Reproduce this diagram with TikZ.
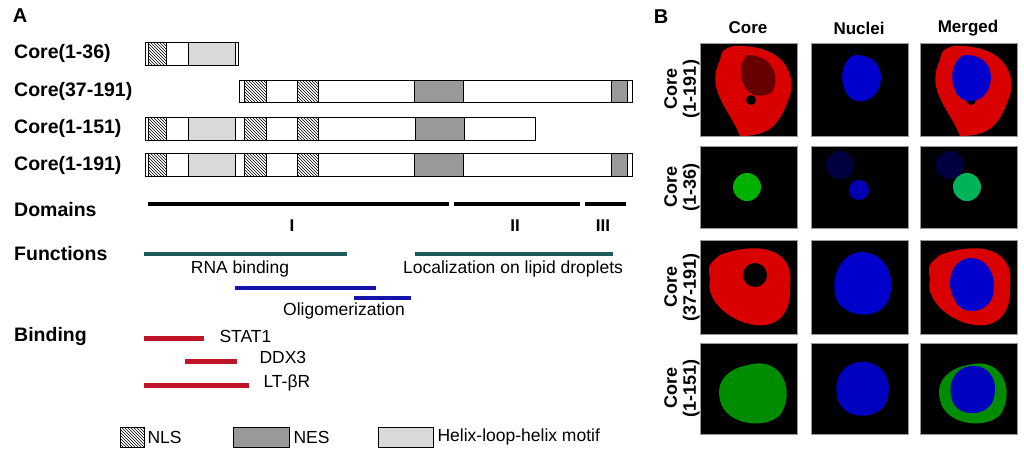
\documentclass[tikz,border=0pt]{standalone}
\usepackage{fontspec}
\setmainfont{Liberation Sans}
\usetikzlibrary{patterns}
\begin{document}
\begin{tikzpicture}[x=1pt,y=-1pt,
  lab/.style={font=\bfseries\fontsize{19.5}{22}\selectfont,anchor=west,inner sep=0pt},
  txt/.style={font=\fontsize{17.5}{20}\selectfont},
  bar/.style={draw=black,fill=white,line width=1pt},
  nls/.style={draw=black,pattern=north west lines,line width=0.8pt},
  nes/.style={draw=black,fill=black!40,line width=0.8pt},
  hlh/.style={draw=black,fill=black!15,line width=0.8pt},
  dom/.style={line width=4pt},
  fun/.style={line width=4pt,draw={rgb,255:red,30;green,90;blue,90}},
  olig/.style={line width=4pt,draw={rgb,255:red,20;green,20;blue,170}},
  bind/.style={line width=5pt,draw={rgb,255:red,190;green,20;blue,40}},
  img/.style={fill=black,draw=black!40,line width=0.4pt},
  hdr/.style={font=\bfseries\fontsize{17}{19}\selectfont},
  rhdr/.style={font=\bfseries\fontsize{18}{19}\selectfont,rotate=90,align=center}]
\useasboundingbox (0,0) rectangle (1024,459);
\node[font=\bfseries\fontsize{20}{22}\selectfont] (A) at (20,16) {A};
\node[font=\bfseries\fontsize{20}{22}\selectfont] (B) at (661,17) {B};
% constructs
\node[lab] (l1) at (14,53) {Core(1-36)};
\node[lab] (l2) at (14,91) {Core(37-191)};
\node[lab] (l3) at (14,128) {Core(1-151)};
\node[lab] (l4) at (14,165) {Core(1-191)};
% row 1
\draw[bar] (145,42) rectangle (238,65);
\draw[nls] (148,42) rectangle (166,65);
\draw[hlh] (188,42) rectangle (235,65);
% row 2
\draw[bar] (239,80) rectangle (632,102);
\draw[nls] (244,80) rectangle (266,102);
\draw[nls] (297,80) rectangle (318,102);
\draw[nes] (414,80) rectangle (463,102);
\draw[nes] (611,80) rectangle (627,102);
% row 3
\draw[bar] (145,117) rectangle (535,140);
\draw[nls] (148,117) rectangle (166,140);
\draw[hlh] (188,117) rectangle (235,140);
\draw[nls] (244,117) rectangle (266,140);
\draw[nls] (297,117) rectangle (318,140);
\draw[nes] (415,117) rectangle (464,140);
% row 4
\draw[bar] (145,153) rectangle (632,176);
\draw[nls] (148,153) rectangle (166,176);
\draw[hlh] (188,153) rectangle (235,176);
\draw[nls] (244,153) rectangle (266,176);
\draw[nls] (297,153) rectangle (318,176);
\draw[nes] (414,153) rectangle (463,176);
\draw[nes] (611,153) rectangle (627,176);
% domains
\node[lab] (dl) at (14,210) {Domains};
\draw[dom] (148,204) -- (449,204);
\draw[dom] (454,204) -- (580,204);
\draw[dom] (585,204) -- (626,204);
\node[hdr] (d1) at (292,226) {I};
\node[hdr] (d2) at (515,226) {II};
\node[hdr] (d3) at (603,226) {III};
% functions
\node[lab] (fl) at (14,254) {Functions};
\draw[fun] (144,254) -- (347,254);
\draw[fun] (415,254) -- (613,254);
\node[txt] (rna) at (240,269) {RNA binding};
\node[txt] (loc) at (513,269) {Localization on lipid droplets};
\draw[olig] (235,288) -- (376,288);
\draw[olig] (354,298) -- (411,298);
\node[txt] (oli) at (344,311) {Oligomerization};
% binding
\node[lab] (bl) at (14,336) {Binding};
\draw[bind] (144,338) -- (204,338);
\node[txt,anchor=west] (s1) at (216,336) {STAT1};
\draw[bind] (185,361) -- (237,361);
\node[txt,anchor=west] (s2) at (256,357) {DDX3};
\draw[bind] (144,385) -- (249,385);
\node[txt,anchor=west] (s3) at (260,383) {LT-βR};
% legend
\draw[nls] (120,427) rectangle (144,447);
\node[txt,anchor=west] (g1) at (144,437) {NLS};
\draw[nes] (233,427) rectangle (289,447);
\node[txt,anchor=west] (g2) at (290,437) {NES};
\draw[hlh] (378,427) rectangle (433,447);
\node[txt,anchor=west] (g3) at (434,437) {Helix-loop-helix motif};
% panel B headers
\node[hdr] (h1) at (748,28) {Core};
\node[hdr] (h2) at (859,28) {Nuclei};
\node[hdr] (h3) at (968,28) {Merged};
\node[rhdr] (r1) at (682,89) {Core\\(1-191)};
\node[rhdr] (r2) at (682,187) {Core\\(1-36)};
\node[rhdr] (r3) at (682,287) {Core\\(37-191)};
\node[rhdr] (r4) at (682,388) {Core\\(1-151)};
% image squares
\foreach \x in {700,811,920}{
  \draw[img] (\x,43) rectangle ++(97,93);
  \draw[img] (\x,146) rectangle ++(97,82);
  \draw[img] (\x,240) rectangle ++(97,94);
  \draw[img] (\x,343) rectangle ++(97,91);
}
% row 1 blobs
\foreach \x in {0,220}{
  \fill[red!85!black] (\x+733,46) .. controls (\x+790,44) and (\x+795,80) .. (\x+790,95) .. controls (\x+780,125) and (\x+770,136) .. (\x+740,136) .. controls (\x+730,110) and (\x+705,90) .. (\x+720,60) .. controls (\x+722,50) .. (\x+733,46);
}
\fill[red!40!black] (747,55) .. controls (775,55) and (780,80) .. (772,92) .. controls (760,100) and (745,95) .. (742,80) .. controls (740,65) .. (747,55);
\fill[black] (751,100) circle (5);
\fill[black] (971,100) circle (5);
\fill[blue!80!black] (855,55) .. controls (880,55) and (885,75) .. (878,90) .. controls (870,105) and (850,105) .. (845,90) .. controls (838,75) and (845,57) .. (855,55);
\fill[blue!80!black] (965,55) .. controls (990,55) and (995,75) .. (988,90) .. controls (980,105) and (960,105) .. (955,90) .. controls (948,75) and (955,57) .. (965,55);
% row 2
\fill[green!70!black] (747,187) circle (14);
\fill[blue!70!black] (859,190) circle (10);
\fill[blue!25!black] (840,165) circle (14);
\fill[blue!25!black] (950,165) circle (14);
\fill[green!50!cyan!70!black] (967,187) circle (14);
% row 3
\foreach \x in {0,220}{
  \fill[red!85!black] (\x+720,255) .. controls (\x+760,240) and (\x+795,250) .. (\x+790,285) .. controls (\x+792,310) and (\x+780,328) .. (\x+755,325) .. controls (\x+730,322) and (\x+705,300) .. (\x+710,280) .. controls (\x+708,265) .. (\x+720,255);
}
\fill[black] (755,275) circle (12);
\fill[blue!80!black] (860,252) .. controls (885,252) and (895,275) .. (890,295) .. controls (885,318) and (855,320) .. (840,305) .. controls (828,290) and (835,255) .. (860,252);
\fill[blue!80!black] (970,258) .. controls (990,258) and (998,280) .. (992,298) .. controls (985,315) and (960,315) .. (955,300) .. controls (945,285) and (950,260) .. (970,258);
% row 4
\fill[green!55!black] (748,365) .. controls (785,355) and (795,395) .. (780,415) .. controls (765,430) and (725,425) .. (720,400) .. controls (715,380) and (730,368) .. (748,365);
\fill[blue!75!black] (860,362) .. controls (885,360) and (895,385) .. (885,405) .. controls (875,420) and (845,420) .. (838,400) .. controls (832,380) and (842,364) .. (860,362);
\fill[green!55!black] (968,365) .. controls (1005,355) and (1015,395) .. (1000,415) .. controls (985,430) and (945,425) .. (940,400) .. controls (935,380) and (950,368) .. (968,365);
\fill[blue!75!black] (970,366) .. controls (992,364) and (1000,385) .. (992,403) .. controls (983,417) and (958,417) .. (952,400) .. controls (947,383) and (955,368) .. (970,366);
\end{tikzpicture}
\end{document}
